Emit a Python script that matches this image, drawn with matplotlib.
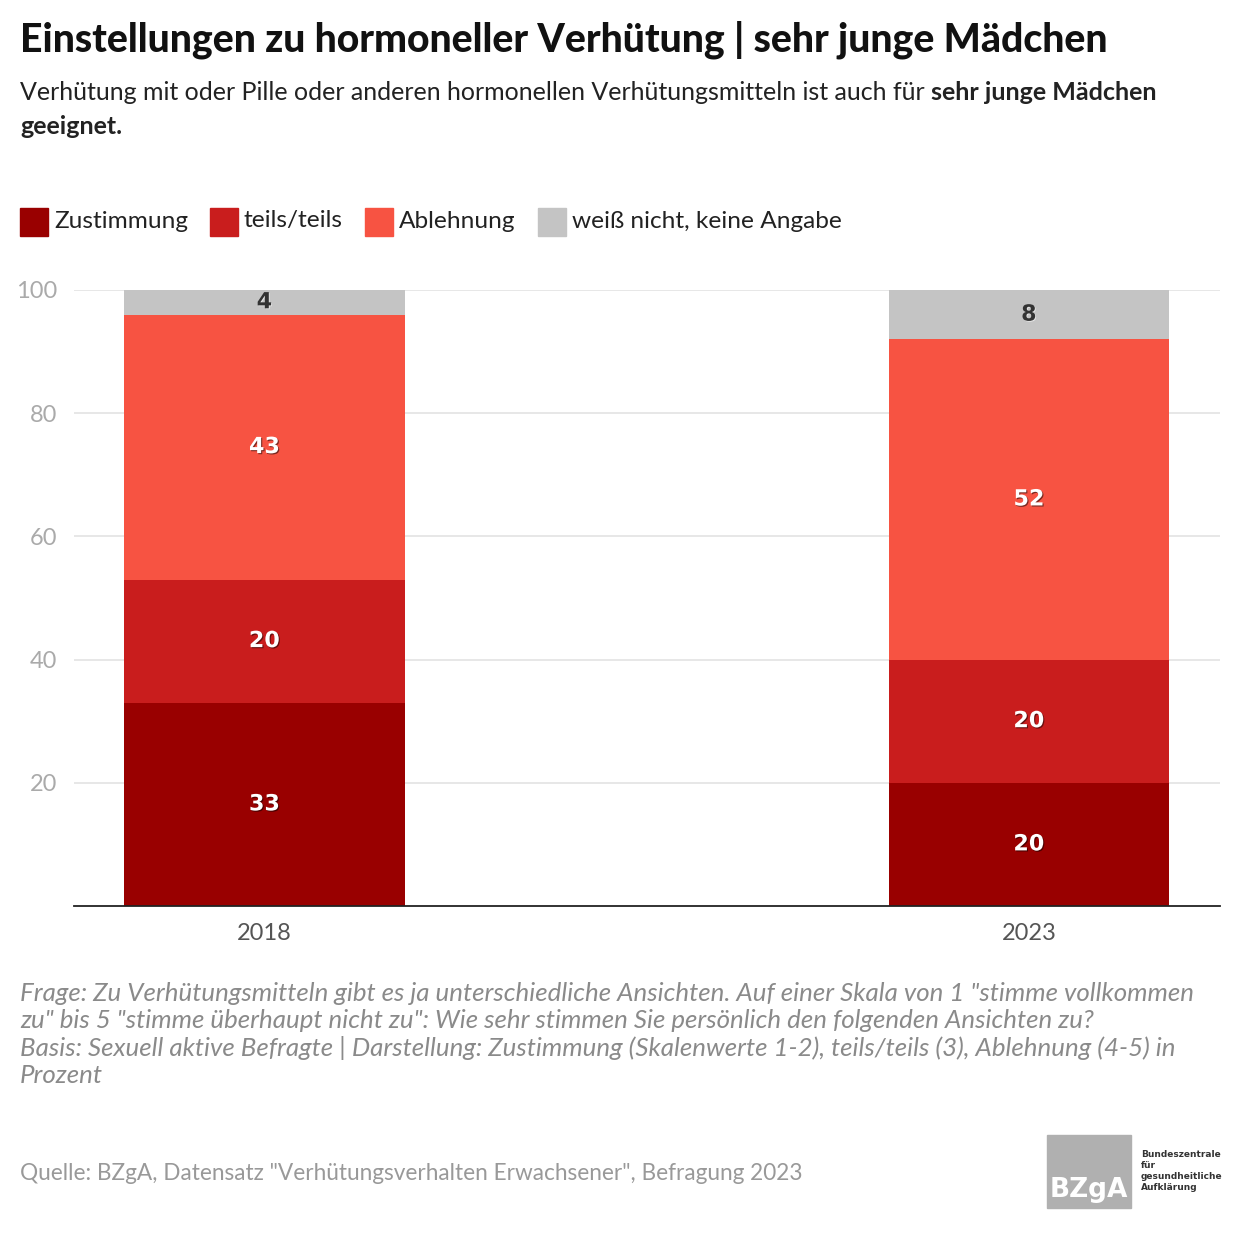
import matplotlib
matplotlib.use("Agg")
import matplotlib.pyplot as plt
import matplotlib.patheffects as pe
from matplotlib.patches import Rectangle

plt.rcParams['font.family'] = ['Lato', 'DejaVu Sans']

years = ["2018", "2023"]
categories = ["Zustimmung", "teils/teils", "Ablehnung", "weiß nicht, keine Angabe"]
values = {
    "Zustimmung": [33, 20],
    "teils/teils": [20, 20],
    "Ablehnung": [43, 52],
    "weiß nicht, keine Angabe": [4, 8],
}
colors = ["#990000", "#c91d1d", "#f75342", "#c4c4c4"]
label_colors = ["white", "white", "white", "#333333"]

fig = plt.figure(figsize=(12.4, 12.4), dpi=100)
ax = fig.add_axes([74/1240, 1 - 906/1240, 1146/1240, 616/1240])

x = list(range(len(years)))
bottom = [0] * len(years)
for cat, col, lc in zip(categories, colors, label_colors):
    vals = values[cat]
    ax.bar(x, vals, bottom=bottom, width=0.367, color=col, zorder=2)
    for i, v in enumerate(vals):
        fx = [pe.withSimplePatchShadow(offset=(0.8, -0.8), shadow_rgbFace="black", alpha=0.5)] if lc == "white" else \
             [pe.withSimplePatchShadow(offset=(0.6, -0.6), shadow_rgbFace="white", alpha=0.6)]
        ax.text(i, bottom[i] + v / 2, str(v), ha="center", va="center", color=lc,
                fontsize=16, fontweight="bold", family=["DejaVu Sans"], path_effects=fx, zorder=3)
    bottom = [b + v for b, v in zip(bottom, vals)]

ax.set_xlim(-0.249, 1.25)
ax.set_ylim(0, 100)
ax.set_yticks([20, 40, 60, 80, 100])
ax.set_xticks(x)
ax.set_xticklabels(years)
ax.tick_params(axis="y", length=0, labelsize=17, labelcolor="#aaaaaa", pad=12)
ax.tick_params(axis="x", length=0, labelsize=17, labelcolor="#555555", pad=12)
ax.grid(axis="y", color="#e3e3e3", linewidth=1.2, zorder=0)
for s in ["top", "right", "left"]:
    ax.spines[s].set_visible(False)
ax.spines["bottom"].set_color("#222222")
ax.spines["bottom"].set_linewidth(1.3)
ax.spines["bottom"].set_zorder(4)

# titles
fig.text(20/1240, 1 - 40/1240, "Einstellungen zu hormoneller Verhütung | sehr junge Mädchen",
         fontsize=28.2, fontweight=900, va="center", ha="left", color="#111111")
sub = fig.text(20/1240, 1 - 92/1240,
               "Verhütung mit oder Pille oder anderen hormonellen Verhütungsmitteln ist auch für ",
               fontsize=18, va="center", ha="left", color="#222222")
fig.canvas.draw()
sx = sub.get_window_extent().x1
fig.text(sx/1240, 1 - 92/1240, "sehr junge Mädchen", fontsize=18, fontweight="bold",
         va="center", ha="left", color="#222222")
fig.text(20/1240, 1 - 127/1240, "geeignet.", fontsize=18, fontweight="bold", va="center", ha="left", color="#222222")

# legend
lx = 20
for cat, col in zip(categories, colors):
    fig.patches.append(Rectangle((lx/1240, 1 - 236/1240), 28/1240, 28/1240, color=col, transform=fig.transFigure))
    t = fig.text((lx + 34)/1240, 1 - 221/1240, cat, fontsize=17.6, va="center", ha="left", color="#222222")
    fig.canvas.draw()
    bb = t.get_window_extent()
    lx = bb.x1 + 22

# notes
note = ('Frage: Zu Verhütungsmitteln gibt es ja unterschiedliche Ansichten. Auf einer Skala von 1 "stimme vollkommen\n'
        'zu" bis 5 "stimme überhaupt nicht zu": Wie sehr stimmen Sie persönlich den folgenden Ansichten zu?\n'
        'Basis: Sexuell aktive Befragte | Darstellung: Zustimmung (Skalenwerte 1-2), teils/teils (3), Ablehnung (4-5) in\n'
        'Prozent')
fig.text(20/1240, 1 - 982/1240, note, fontsize=18.6, style="italic", va="top", ha="left",
         color="#8a8a8a", linespacing=1.2)
fig.text(20/1240, 1 - 1174/1240, 'Quelle: BZgA, Datensatz "Verhütungsverhalten Erwachsener", Befragung 2023',
         fontsize=16.3, va="center", ha="left", color="#999999")

# logo
fig.patches.append(Rectangle((1047/1240, 1 - 1208/1240), 84/1240, 73/1240, color="#b0b0b0",
                             transform=fig.transFigure))
fig.text(1089/1240, 1 - 1190/1240, "BZgA", fontsize=19, fontweight="bold", color="white",
         ha="center", va="center", family=["DejaVu Sans"])
fig.text(1141/1240, 1 - 1150/1240, "Bundeszentrale\nfür\ngesundheitliche\nAufklärung", fontsize=6.5,
         fontweight="bold", color="#333333", ha="left", va="top", family=["DejaVu Sans"], linespacing=1.3)

fig.savefig("out.png", dpi=100, facecolor="white")
